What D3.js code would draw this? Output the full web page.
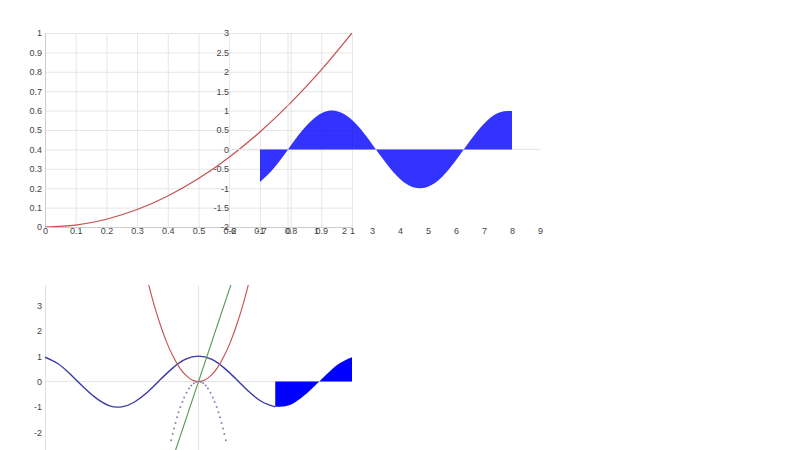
<!DOCTYPE html>
<html>
<head>
<meta charset="utf-8">
<script src="https://cdn.jsdelivr.net/npm/d3@7"></script>
<style>
  body { margin: 0; background: #fff; }
  text { font-family: "Liberation Sans", Arial, sans-serif; font-size: 9px; fill: #444; }
  .domain { stroke: #ddd; }
</style>
</head>
<body>
<div id="chart"></div>
<script>
// ---- data ----
// plot 1: y = x^2 on [0, 1]
var squareX = [0, 0.1, 0.2, 0.3, 0.4, 0.5, 0.6, 0.7, 0.8, 0.9, 1];
var squareY = [0, 0.01, 0.04, 0.09, 0.16, 0.25, 0.36, 0.49, 0.64, 0.81, 1];
var plot1XTicks = [0, 0.1, 0.2, 0.3, 0.4, 0.5, 0.6, 0.7, 0.8, 0.9, 1];
var plot1YTicks = [0, 0.1, 0.2, 0.3, 0.4, 0.5, 0.6, 0.7, 0.8, 0.9, 1];

// plot 2: filled sine from -1 to 8
var sineX = [-1, -0.5, 0, 0.5, 1, 1.5, 2, 2.5, 3, 3.5, 4, 4.5, 5, 5.5, 6, 6.5, 7, 7.5, 8];
var sineY = [-0.84, -0.48, 0, 0.48, 0.84, 1.0, 0.91, 0.6, 0.14, -0.35, -0.76, -0.98, -0.96, -0.71, -0.28, 0.22, 0.66, 0.94, 0.99];
var plot2XTicks = [-2, -1, 0, 1, 2, 3, 4, 5, 6, 7, 8, 9];
var plot2YTicks = [-2, -1.5, -1, -0.5, 0, 0.5, 1, 1.5, 2, 2.5, 3];

// plot 3: cosine line, cosine fill, parabola, line, dotted points
var cosLineX = [-6, -5.5, -5, -4.5, -4, -3.5, -3, -2.5, -2, -1.5, -1, -0.5, 0, 0.5, 1, 1.5, 2, 2.5, 3];
var cosLineY = [0.96, 0.71, 0.28, -0.21, -0.65, -0.94, -0.99, -0.8, -0.42, 0.07, 0.54, 0.88, 1, 0.88, 0.54, 0.07, -0.42, -0.8, -0.99];
var cosFillX = [3, 3.5, 4, 4.5, 5, 5.5, 6];
var cosFillY = [-0.99, -0.94, -0.65, -0.21, 0.28, 0.71, 0.96];
var parabX = [-2, -1.75, -1.5, -1.25, -1, -0.75, -0.5, -0.25, 0, 0.25, 0.5, 0.75, 1, 1.25, 1.5, 1.75, 2];
var parabY = [4, 3.06, 2.25, 1.56, 1, 0.56, 0.25, 0.06, 0, 0.06, 0.25, 0.56, 1, 1.56, 2.25, 3.06, 4];
var lineX = [-1.3, 1.3];
var lineY = [-3.9, 3.9];
var dotX = [-1.07, -1.01, -0.96, -0.9, -0.84, -0.78, -0.71, -0.63, -0.56, -0.47, -0.37, -0.28, -0.18, -0.09, 0,
            0.09, 0.18, 0.28, 0.37, 0.47, 0.56, 0.63, 0.71, 0.78, 0.84, 0.9, 0.96, 1.01, 1.07];
var dotY = [-2.3, -2.06, -1.84, -1.62, -1.4, -1.2, -1.0, -0.8, -0.62, -0.44, -0.27, -0.15, -0.06, -0.02, 0,
            -0.02, -0.06, -0.15, -0.27, -0.44, -0.62, -0.8, -1.0, -1.2, -1.4, -1.62, -1.84, -2.06, -2.3];
var plot3YTicks = [-2, -1, 0, 1, 2, 3];

function zip(xs, ys) {
    return xs.map(function (x, i) { return [x, ys[i]]; });
}

var svg = d3.select("#chart").append("svg")
    .attr("width", 800)
    .attr("height", 450);

var defs = svg.append("defs");
var clipCount = 0;

// one plot box: scales + clip
function makePlot(left, top, width, height, xDomain, yDomain) {
    var p = {};
    p.x = d3.scaleLinear().domain(xDomain).range([0, width]);
    p.y = d3.scaleLinear().domain(yDomain).range([height, 0]);
    p.width = width;
    p.height = height;
    p.g = svg.append("g").attr("transform", "translate(" + left + "," + top + ")");
    var id = "clip" + (clipCount++);
    defs.append("clipPath").attr("id", id)
        .append("rect").attr("width", width).attr("height", height);
    p.clip = "url(#" + id + ")";
    p.line = d3.line().curve(d3.curveNatural)
        .x(function (d) { return p.x(d[0]); })
        .y(function (d) { return p.y(d[1]); });
    p.area = d3.area().curve(d3.curveNatural)
        .x(function (d) { return p.x(d[0]); })
        .y0(function () { return p.y(0); })
        .y1(function (d) { return p.y(d[1]); });
    return p;
}

function origin(p, color) {
    p.g.append("line")
        .attr("x1", 0).attr("x2", p.width)
        .attr("y1", p.y(0)).attr("y2", p.y(0))
        .style("stroke", color);
    p.g.append("line")
        .attr("x1", p.x(0)).attr("x2", p.x(0))
        .attr("y1", 0).attr("y2", p.height)
        .style("stroke", color);
}

// ---- plot 1 ----
var p1 = makePlot(45, 33, 307, 194, [0, 1], [0, 1]);

// grid lines
p1.g.append("g")
    .attr("transform", "translate(0," + p1.height + ")")
    .call(d3.axisBottom(p1.x).tickValues(plot1XTicks).tickSize(-p1.height).tickFormat(""))
    .call(function (g) { g.select(".domain").remove(); })
    .selectAll("line").style("stroke", "#e6e6e6");
p1.g.append("g")
    .call(d3.axisLeft(p1.y).tickValues(plot1YTicks).tickSize(-p1.width).tickFormat(""))
    .call(function (g) { g.select(".domain").remove(); })
    .selectAll("line").style("stroke", "#e6e6e6");

p1.g.append("g")
    .attr("transform", "translate(0," + p1.height + ")")
    .call(d3.axisBottom(p1.x).tickValues(plot1XTicks).tickSize(0).tickPadding(1).tickFormat(String))
    .select(".domain").style("stroke", "#ccc");
p1.g.append("g")
    .call(d3.axisLeft(p1.y).tickValues(plot1YTicks).tickSize(0).tickPadding(3).tickFormat(String))
    .select(".domain").style("stroke", "#ccc");

p1.g.append("path")
    .datum(zip(squareX, squareY))
    .attr("clip-path", p1.clip)
    .attr("d", p1.line)
    .style("fill", "none")
    .style("stroke", "#c44f4f")
    .style("stroke-width", "1.2px");

// ---- plot 2 ----
var p2 = makePlot(232, 33, 308, 194, [-2, 9], [-2, 3]);
origin(p2, "#e4e4e4");

p2.g.append("path")
    .datum(zip(sineX, sineY))
    .attr("clip-path", p2.clip)
    .attr("d", p2.area)
    .style("fill", "blue")
    .style("opacity", 0.8);

p2.g.append("g")
    .attr("transform", "translate(0," + p2.height + ")")
    .call(d3.axisBottom(p2.x).tickValues(plot2XTicks).tickSize(0).tickPadding(1).tickFormat(String))
    .select(".domain").remove();
p2.g.append("g")
    .call(d3.axisLeft(p2.y).tickValues(plot2YTicks).tickSize(0).tickPadding(3).tickFormat(String))
    .select(".domain").remove();

// ---- plot 3 ----
var p3 = makePlot(45, 285, 307, 195, [-6, 6], [-3.86, 3.79]);
origin(p3, "#e4e4e4");

p3.g.append("g")
    .call(d3.axisLeft(p3.y).tickValues(plot3YTicks).tickSize(0).tickPadding(3).tickFormat(String))
    .select(".domain").style("stroke", "#e0e0e0");

p3.g.append("path")
    .datum(zip(cosFillX, cosFillY))
    .attr("clip-path", p3.clip)
    .attr("d", p3.area)
    .style("fill", "blue");

p3.g.append("path")
    .datum(zip(cosLineX, cosLineY))
    .attr("clip-path", p3.clip)
    .attr("d", p3.line)
    .style("fill", "none")
    .style("stroke", "#3a3aa6")
    .style("stroke-width", "1.4px");

p3.g.append("path")
    .datum(zip(parabX, parabY))
    .attr("clip-path", p3.clip)
    .attr("d", p3.line)
    .style("fill", "none")
    .style("stroke", "#c44f4f")
    .style("stroke-width", "1.1px");

p3.g.append("path")
    .datum(zip(lineX, lineY))
    .attr("clip-path", p3.clip)
    .attr("d", p3.line.curve(d3.curveLinear))
    .style("fill", "none")
    .style("stroke", "#4f9a4f")
    .style("stroke-width", "1.1px");

p3.g.append("g")
    .attr("clip-path", p3.clip)
    .selectAll("circle")
    .data(zip(dotX, dotY))
    .enter().append("circle")
    .attr("cx", function (d) { return p3.x(d[0]); })
    .attr("cy", function (d) { return p3.y(d[1]); })
    .attr("r", 1)
    .style("fill", "#8585b5");
</script>
</body>
</html>
